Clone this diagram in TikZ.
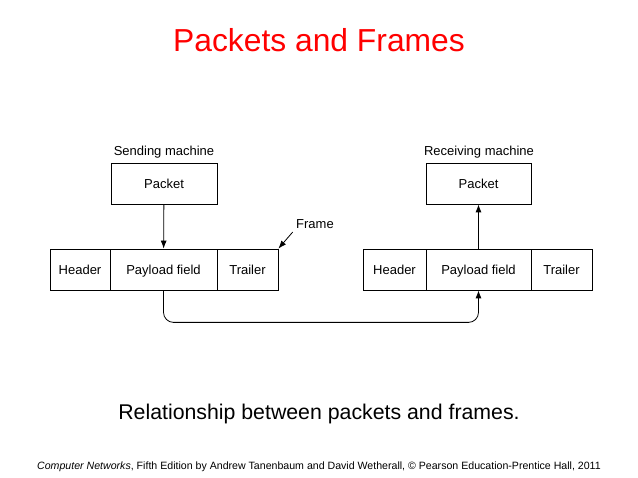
\documentclass[tikz,border=0pt]{standalone}
\usepackage{fontspec}
\setmainfont{Liberation Sans}
\usetikzlibrary{arrows.meta}
\begin{document}
\begin{tikzpicture}[x=1pt,y=-1pt,
  box/.style={draw,thick,minimum height=41pt,inner sep=0pt,text height=11pt,text depth=0pt,font=\fontsize{13}{15}\selectfont},
  lbl/.style={font=\fontsize{13}{15}\selectfont},
  conn/.style={thick,-{Latex[length=8pt,width=6pt]}}]
\useasboundingbox[fill=white] (0,0) rectangle (638,478);
\node[text=red,font=\fontsize{31.8}{36}\selectfont] (title) at (319,40) {Packets and Frames};
% sending side
\node[lbl] (sm) at (164,152) {Sending machine};
\node[box,minimum width=106pt] (p1) at (164,183.5) {Packet};
\node[box,minimum width=60pt] (h1) at (80,269.5) {Header};
\node[box,minimum width=107pt] (f1) at (163.5,269.5) {Payload field};
\node[box,minimum width=61pt] (t1) at (247.5,269.5) {Trailer};
% receiving side
\node[lbl] (rm) at (479,152) {Receiving machine};
\node[box,minimum width=105pt] (p2) at (478.5,183.5) {Packet};
\node[box,minimum width=63pt] (h2) at (394.5,269.5) {Header};
\node[box,minimum width=105pt] (f2) at (478.5,269.5) {Payload field};
\node[box,minimum width=61pt] (t2) at (561.5,269.5) {Trailer};
% frame label
\node[lbl] (fr) at (315,224) {Frame};
\draw[conn] (fr.south west) -- (t1.north east);
% connectors
\draw[conn] (p1) -- (f1);
\draw[conn] (f2) -- (p2);
\draw[conn,rounded corners=10pt] (f1.south) -- ++(0,32) -| (f2.south);
% caption
\node[font=\fontsize{21.3}{24}\selectfont] (cap) at (319,414) {Relationship between packets and frames.};
\node[font=\fontsize{10.6}{12}\selectfont] (foot) at (319,467) {\textit{Computer Networks}, Fifth Edition by Andrew Tanenbaum and David Wetherall, \textcopyright{} Pearson Education-Prentice Hall, 2011};
\end{tikzpicture}
\end{document}
